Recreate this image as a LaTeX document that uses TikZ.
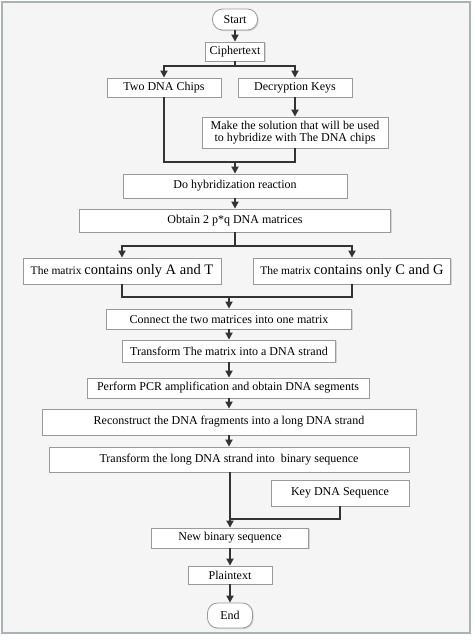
\documentclass[tikz,border=0pt]{standalone}
\usepackage{fontspec}
\setmainfont{Liberation Serif}
\usetikzlibrary{arrows.meta,shadows}
\definecolor{frameline}{HTML}{A9B3B3}
\definecolor{framefill}{HTML}{F5F5F5}
\definecolor{boxline}{HTML}{9A9A9A}
\definecolor{lineclr}{HTML}{333333}
\tikzset{
  box/.style={draw=boxline, line width=0.8pt, fill=white, inner sep=0pt,
    drop shadow={shadow xshift=1.2pt, shadow yshift=-1.2pt, fill=black!25, opacity=0.6},
    font=\fontsize{12}{14}\selectfont, align=center},
  term/.style={box, rounded corners=10pt},
  conn/.style={draw=lineclr, line width=1.8pt},
  arr/.style={conn, -{Triangle[length=7pt,width=7pt]}},
}
\newcommand{\bx}[6]{\node[#1, minimum width=#4pt, minimum height=#5pt] (#2) at (#3) {#6};}
\begin{document}
\begin{tikzpicture}[x=1pt,y=-1pt]
\useasboundingbox (0,0) rectangle (474,644);
\fill[white] (0,0) rectangle (474,644);
\draw[frameline, fill=framefill, line width=1.6pt] (2,2) rectangle (470,633);
\draw[frameline, line width=2.5pt] (2,2) -- (470,2);

\bx{term}{start}{235,19.5}{45}{21}{Start}
\bx{box}{cipher}{235,51.5}{59}{19}{Ciphertext}
\bx{box}{chips}{164,87.5}{114}{19}{Two DNA Chips}
\bx{box}{keys}{295,87.5}{114}{19}{Decryption Keys}
\bx{box}{make}{295,132.5}{186}{31}{Make the solution that will be used\\[-2pt]to hybridize with The DNA chips}
\bx{box}{hyb}{235,186}{224}{24}{Do hybridization reaction}
\bx{box}{obtain}{235,220.5}{311}{23}{Obtain 2 p*q DNA matrices}
\bx{box}{at}{122,271}{198}{26}{\fontsize{11.5}{13}\selectfont The matrix \fontsize{14.5}{16}\selectfont contains only A and T}
\bx{box}{cg}{352,271}{197}{26}{\fontsize{11.5}{13}\selectfont The matrix \fontsize{14.5}{16}\selectfont contains only C and G}
\bx{box}{connect}{229,319}{245}{20}{Connect the two matrices into one matrix}
\bx{box}{trans}{229,351}{213}{22}{Transform The matrix into a DNA strand}
\bx{box}{pcr}{228,388}{282}{20}{Perform PCR amplification and obtain DNA segments}
\bx{box}{recon}{229,422}{374}{26}{Reconstruct the DNA fragments into a long DNA strand}
\bx{box}{long}{229,459.5}{360}{25}{Transform the long DNA strand into~ binary sequence}
\bx{box}{key}{340,493}{138}{26}{Key DNA Sequence}
\bx{box}{newb}{230,538}{157}{20}{New binary sequence}
\bx{box}{plain}{230,575}{84}{18}{Plaintext}
\bx{term}{end}{230,615.5}{45}{25}{End}

\coordinate (s1) at (235,66);
\coordinate (j1) at (235,162);
\coordinate (s2) at (235,246);
\coordinate (j2) at (229,297);
\coordinate (j3) at (230,519);

\draw[arr] (start) -- (cipher);
\draw[conn] (cipher.south) -- (s1);
\draw[arr] (s1) -| (chips.north);
\draw[arr] (s1) -| (keys.north);
\draw[arr] (keys) -- (make);
\draw[conn] (chips.south) |- (j1) -| (make.south);
\draw[arr] (j1) -- (hyb.north);
\draw[arr] (hyb) -- (obtain);
\draw[conn] (obtain.south) -- (s2);
\draw[arr] (s2) -| (at.north);
\draw[arr] (s2) -| (cg.north);
\draw[conn] (at.south) |- (j2) -| (cg.south);
\draw[arr] (j2) -- (connect.north);
\draw[arr] (connect) -- (trans);
\draw[arr] (trans) -- (pcr.north -| trans.south);
\draw[arr] (pcr.south -| trans.south) -- (recon.north -| trans.south);
\draw[arr] (recon.south -| trans.south) -- (long.north -| trans.south);
\draw[arr] (long.south -| newb.north) -- (newb.north);
\draw[conn] (key.south) |- (j3);
\draw[arr] (newb) -- (plain);
\draw[arr] (plain) -- (end);
\end{tikzpicture}
\end{document}
